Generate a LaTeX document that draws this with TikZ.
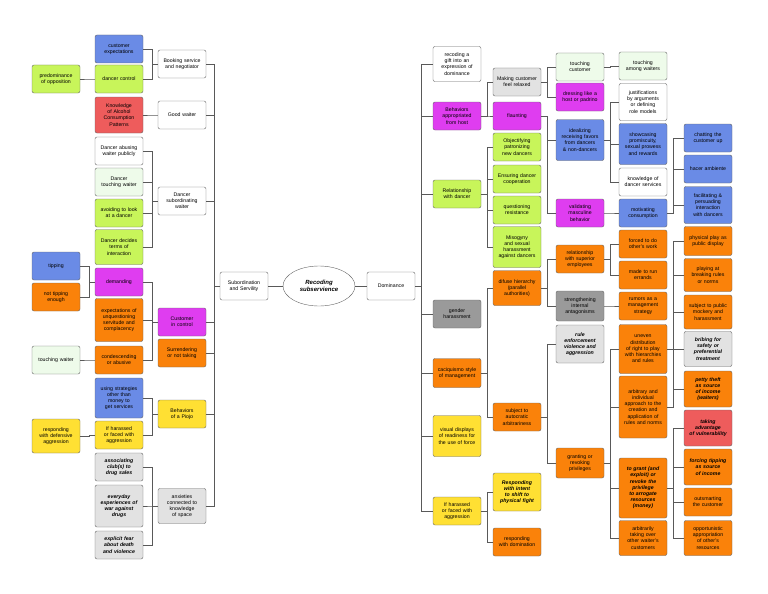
\documentclass[tikz,border=0pt]{standalone}
\usepackage{fontspec}
\usetikzlibrary{shapes.geometric}
\setmainfont{Liberation Sans}
\definecolor{cblue}{HTML}{6A8BE6}
\definecolor{clime}{HTML}{C8F55A}
\definecolor{cred}{HTML}{EE5C5C}
\definecolor{clgreen}{HTML}{EEFBEA}
\definecolor{cmag}{HTML}{DF3DF0}
\definecolor{corange}{HTML}{FA820A}
\definecolor{cyellow}{HTML}{FFE033}
\definecolor{clgray}{HTML}{E2E2E2}
\definecolor{cgray}{HTML}{9A9A9A}
\lefthyphenmin=62
\righthyphenmin=62
\hyphenpenalty=10000
\tikzset{
  box/.style={draw=black!60, rounded corners=2pt, align=center, text width=40pt, minimum width=48pt, inner sep=1pt, font=\fontsize{5.2}{6.2}\selectfont},
  bi/.style={font=\fontsize{5.2}{6.2}\selectfont\bfseries\itshape},
  link/.style={draw=black!65, line width=0.5pt}
}
\newcommand\nd[6]{\node[box,fill=#5,minimum height=#4] (#1) at (#2,#3) {#6};}
\newcommand\ndb[6]{\node[box,bi,fill=#5,minimum height=#4] (#1) at (#2,#3) {#6};}
\newcommand\conR[2]{\foreach \c in {#2} {\draw[link] (#1.east) -- ++(6pt,0) |- (\c.west);}}
\newcommand\conL[2]{\foreach \c in {#2} {\draw[link] (#1.west) -- ++(-6pt,0) |- (\c.east);}}
\begin{document}
\lefthyphenmin=62 \righthyphenmin=62 \hyphenpenalty=10000
\begin{tikzpicture}[x=1pt,y=-1pt]
\useasboundingbox (0,0) rectangle (768,594);
% center
\node[draw=black!60, ellipse, minimum width=72pt, minimum height=40pt, fill=white, align=center, font=\fontsize{6}{7}\selectfont\bfseries\itshape] (C) at (319,286) {Recoding\\subservience};
\nd{S}{244}{286}{28}{white}{Subordination and Servility}
\nd{D}{391}{286}{28}{white}{Dominance}
% left column B
\nd{B1}{182}{64}{28}{white}{Booking service and negotiator}
\nd{B2}{182}{115}{28}{white}{Good waiter}
\nd{B3}{182}{201}{28}{white}{Dancer subordinating waiter}
\nd{B4}{182}{322}{28}{cmag}{Customer in control}
\nd{B5}{182}{353}{28}{corange}{Surrendering or not taking}
\nd{B6}{182}{414}{28}{cyellow}{Behaviors of a Piojo}
\nd{B7}{182}{506}{35}{clgray}{anxieties connected to knowledge of space}
% left column A
\nd{A1}{119}{49}{28}{cblue}{customer expectations}
\nd{A2}{119}{79}{28}{clime}{dancer control}
\nd{A3}{119}{115}{36}{cred}{Knowledge of Alcohol Consumption Patterns}
\nd{A4}{119}{151}{28}{white}{Dancer abusing waiter publicly}
\nd{A5}{119}{182}{28}{clgreen}{Dancer touching waiter}
\nd{A6}{119}{213}{28}{clime}{avoiding to look at a dancer}
\nd{A7}{119}{247}{35}{clime}{Dancer decides terms of interaction}
\nd{A8}{119}{282}{28}{cmag}{demanding}
\nd{A9}{119}{320}{43}{corange}{expectations of unquestioning servitude and complacency}
\nd{A10}{119}{360}{28}{corange}{condescending or abusive}
\nd{A11}{119}{398}{40}{cblue}{using strategies other than money to get services}
\nd{A12}{119}{435}{28}{cyellow}{If harassed or faced with aggression}
\ndb{A13}{119}{467}{28}{clgray}{associating club(s) to drug sales}
\ndb{A14}{119}{506}{42}{clgray}{everyday experiences of war against drugs}
\ndb{A15}{119}{545}{28}{clgray}{explicit fear about death and violence}
% far left
\nd{F1}{56}{79}{28}{clime}{predominance of opposition}
\nd{F2}{56}{266}{28}{cblue}{tipping}
\nd{F3}{56}{297}{28}{corange}{not tipping enough}
\nd{F4}{56}{360}{28}{clgreen}{touching waiter}
\nd{F5}{56}{436}{34}{cyellow}{responding with defensive aggression}
% right R1
\nd{R11}{457}{64}{35}{white}{recoding a gift into an expression of dominance}
\nd{R12}{457}{116}{28}{cmag}{Behaviors appropriated from host}
\nd{R13}{457}{194}{28}{clime}{Relationship with dancer}
\nd{R14}{457}{314}{28}{cgray}{gender harassment}
\nd{R15}{457}{373}{29}{corange}{caciquismo style of management}
\nd{R16}{457}{436}{41}{cyellow}{visual displays of readiness for the use of force}
\nd{R17}{457}{511}{28}{cyellow}{If harassed or faced with aggression}
% R2
\nd{R21}{517}{82}{28}{clgray}{Making customer feel relaxed}
\nd{R22}{517}{116}{28}{cmag}{flaunting}
\nd{R23}{517}{147}{28}{clime}{Objectifying patronizing new dancers}
\nd{R24}{517}{179}{28}{clime}{Ensuring dancer cooperation}
\nd{R25}{517}{210}{28}{clime}{questioning resistance}
\nd{R26}{517}{247}{41}{clime}{Misogyny and sexual harassment against dancers}
\nd{R27}{517}{288}{35}{corange}{difuse hierarchy (parallel authorities)}
\nd{R28}{517}{417}{28}{corange}{subject to autocratic arbitrariness}
\ndb{R29}{517}{492}{38}{cyellow}{Responding with intent to shift to physical fight}
\nd{R210}{517}{542}{28}{corange}{responding with domination}
% R3
\nd{R31}{580}{67}{28}{clgreen}{touching customer}
\nd{R32}{580}{97}{28}{cmag}{dressing like a host or padrino}
\nd{R33}{580}{140}{41}{cblue}{idealizing receiving favors from dancers \& non-dancers}
\nd{R34}{580}{213}{28}{cmag}{validating masculine behavior}
\nd{R35}{580}{259}{28}{corange}{relationship with superior employees}
\nd{R36}{580}{306}{30}{cgray}{strengthening internal antagonisms}
\ndb{R37}{580}{344}{38}{clgray}{rule enforcement violence and aggression}
\nd{R38}{580}{463}{30}{corange}{granting or revoking privileges}
% R4
\nd{R41}{643}{66}{28}{clgreen}{touching among waiters}
\nd{R42}{643}{102}{37}{white}{justifications by arguments or defining role models}
\nd{R43}{643}{144}{41}{cblue}{showcasing promiscuity, sexual prowess and rewards}
\nd{R44}{643}{182}{28}{white}{knowledge of dancer services}
\nd{R45}{643}{213}{28}{cblue}{motivating consumption}
\nd{R46}{643}{244}{28}{corange}{forced to do other's work}
\nd{R47}{643}{275}{28}{corange}{made to run errands}
\nd{R48}{643}{306}{28}{corange}{rumors as a management strategy}
\nd{R49}{643}{349}{49}{corange}{uneven distribution of right to play with hierarchies and rules}
\nd{R410}{643}{407}{62}{corange}{arbitrary and individual approach to the creation and application of rules and norms}
\ndb{R411}{643}{488}{60}{corange}{to grant (and exploit) or revoke the privilege to arrogate resources (money)}
\nd{R412}{643}{538}{35}{corange}{arbitrarily taking over other waiter's customers}
% R5
\nd{R51}{708}{138}{28}{cblue}{chatting the customer up}
\nd{R52}{708}{169}{28}{cblue}{hacer ambiente}
\nd{R53}{708}{205}{37}{cblue}{facilitating \& persuading interaction with dancers}
\nd{R54}{708}{241}{29}{corange}{physical play as public display}
\nd{R55}{708}{275}{33}{corange}{playing at breaking rules or norms}
\nd{R56}{708}{312}{34}{corange}{subject to public mockery and harassment}
\ndb{R57}{708}{349}{35}{clgray}{bribing for safety or preferential treatment}
\ndb{R58}{708}{389}{36}{corange}{petty theft as source of income (waiters)}
\ndb{R59}{708}{428}{36}{cred}{taking advantage of vulnerability}
\ndb{R510}{708}{467}{36}{corange}{forcing tipping as source of income}
\nd{R511}{708}{502}{28}{corange}{outsmarting the customer}
\nd{R512}{708}{538}{35}{corange}{opportunistic appropriation of other's resources}
% connectors
\draw[link] (C) -- (S); \draw[link] (C) -- (D);
\conL{S}{B1,B2,B3,B4,B5,B6,B7}
\conL{B1}{A1,A2}
\conL{A2}{F1}
\conL{B2}{A3}
\conL{B3}{A4,A5,A6,A7}
\conL{B4}{A8,A9,A10}
\conL{A8}{F2,F3}
\conL{A10}{F4}
\conL{B6}{A11,A12}
\conL{A12}{F5}
\conL{B7}{A13,A14,A15}
\conR{D}{R11,R12,R13,R14,R15,R16,R17}
\conR{R12}{R21,R22}
\conR{R21}{R31,R32}
\conR{R31}{R41}
\conR{R22}{R33,R34}
\conR{R33}{R42,R43,R44}
\conR{R34}{R45}
\conR{R45}{R51,R52,R53}
\conR{R13}{R23,R24,R25,R26}
\conR{R15}{R27,R28}
\conR{R27}{R35,R36}
\conR{R35}{R46,R47}
\conR{R36}{R48}
\conR{R28}{R37,R38}
\conR{R38}{R49,R410,R411,R412}
\conR{R49}{R54,R55,R56}
\conR{R410}{R57,R58}
\conR{R411}{R59,R510,R511,R512}
\conR{R17}{R29,R210}
\end{tikzpicture}
\end{document}
